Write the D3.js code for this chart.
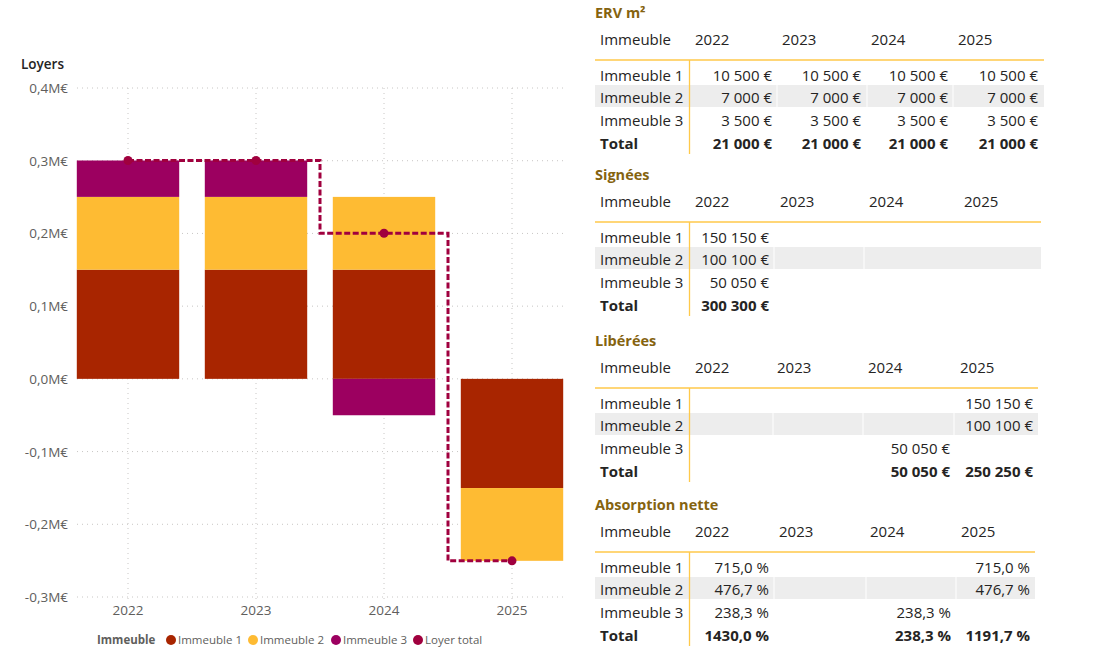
<!DOCTYPE html>
<html>
<head>
<meta charset="utf-8">
<script src="https://cdn.jsdelivr.net/npm/d3@7"></script>
<style>
  body { margin: 0; background: #fff; }
  svg { font-family: "Segoe UI", "Open Sans", sans-serif; }
</style>
</head>
<body>
<div id="chart"></div>
<script>
// data
var years = ["2022", "2023", "2024", "2025"];
var immeubles = ["Immeuble 1", "Immeuble 2", "Immeuble 3"];
var loyerImm1 = [150150, 150150, 150150, -150150];
var loyerImm2 = [100100, 100100, 100100, -100100];
var loyerImm3 = [50050, 50050, -50050, 0];
var loyerTotal = [300300, 300300, 200200, -250250];
var yTicks = [-300000, -200000, -100000, 0, 100000, 200000, 300000, 400000];

var erv1 = [10500, 10500, 10500, 10500];
var erv2 = [7000, 7000, 7000, 7000];
var erv3 = [3500, 3500, 3500, 3500];
var ervTotal = [21000, 21000, 21000, 21000];

var sig1 = [150150, null, null, null];
var sig2 = [100100, null, null, null];
var sig3 = [50050, null, null, null];
var sigTotal = [300300, null, null, null];

var lib1 = [null, null, null, 150150];
var lib2 = [null, null, null, 100100];
var lib3 = [null, null, 50050, null];
var libTotal = [null, null, 50050, 250250];

var abs1 = [715.0, null, null, 715.0];
var abs2 = [476.7, null, null, 476.7];
var abs3 = [238.3, null, 238.3, null];
var absTotal = [1430.0, null, 238.3, 1191.7];

var colors = {"Immeuble 1": "#A82500", "Immeuble 2": "#FEBB33", "Immeuble 3": "#9C0060", "Loyer total": "#A0003E"};

var fr = d3.formatLocale({decimal: ",", thousands: "\u00a0", grouping: [3], currency: ["", " €"], minus: "-"});
var fmtEur = function(v) { return fr.format(",.0f")(v) + " €"; };
var fmtPct = function(v) { return fr.format(",.1f")(v).replace(/\u00a0/g, "") + " %"; };
var fmtM = function(v) { return fr.format(".1f")(v / 1e6) + "M€"; };

var svg = d3.select("#chart").append("svg")
    .attr("width", 1108).attr("height", 648);

// ---- chart ----
var x = d3.scaleBand().domain(years).range([64, 576]).paddingInner(0.2).paddingOuter(0.1);
var y = d3.scaleLinear().domain([-300000, 400000]).range([597, 88]);

var grid = svg.append("g");
grid.selectAll(".hgrid").data(yTicks).enter().append("line")
    .attr("x1", 77).attr("x2", 563)
    .attr("y1", function(d) { return y(d); }).attr("y2", function(d) { return y(d); })
    .attr("stroke", "#C8C6C4").attr("stroke-dasharray", "1,4");
grid.selectAll(".vgrid").data(years).enter().append("line")
    .attr("x1", function(d) { return x(d) + x.bandwidth() / 2; })
    .attr("x2", function(d) { return x(d) + x.bandwidth() / 2; })
    .attr("y1", y(400000)).attr("y2", y(-300000) + 4)
    .attr("stroke", "#C8C6C4").attr("stroke-dasharray", "1,4");

svg.append("g").selectAll("text").data(yTicks).enter().append("text")
    .attr("x", 68).attr("y", function(d) { return y(d) + 5; })
    .attr("text-anchor", "end").attr("font-size", 13.5).attr("fill", "#605E5C")
    .text(fmtM);

svg.append("g").selectAll("text").data(years).enter().append("text")
    .attr("x", function(d) { return x(d) + x.bandwidth() / 2; }).attr("y", 615)
    .attr("text-anchor", "middle").attr("font-size", 13.5).attr("fill", "#605E5C")
    .text(function(d) { return d; });

svg.append("text").attr("x", 21).attr("y", 69)
    .attr("font-size", 13.5).attr("font-weight", 600).attr("fill", "#252423")
    .text("Loyers");

var rows = years.map(function(yr, i) {
    return {year: yr, "Immeuble 1": loyerImm1[i], "Immeuble 2": loyerImm2[i], "Immeuble 3": loyerImm3[i]};
});
var stack = d3.stack().keys(immeubles).offset(d3.stackOffsetDiverging)(rows);

svg.append("g").selectAll("g").data(stack).enter().append("g")
    .attr("fill", function(d) { return colors[d.key]; })
    .selectAll("rect").data(function(d) { return d; }).enter().append("rect")
    .attr("x", function(d) { return x(d.data.year); })
    .attr("width", x.bandwidth())
    .attr("y", function(d) { return y(Math.max(d[0], d[1])); })
    .attr("height", function(d) { return Math.abs(y(d[0]) - y(d[1])); });

var totalPts = years.map(function(yr, i) { return [x(yr) + x.bandwidth() / 2, y(loyerTotal[i])]; });
svg.append("path")
    .attr("d", d3.line().curve(d3.curveStep)(totalPts))
    .attr("fill", "none").attr("stroke", colors["Loyer total"])
    .attr("stroke-width", 3).attr("stroke-dasharray", "6,2.5");
svg.append("g").selectAll("circle").data(totalPts).enter().append("circle")
    .attr("cx", function(d) { return d[0]; }).attr("cy", function(d) { return d[1]; })
    .attr("r", 4.5).attr("fill", colors["Loyer total"]);

// legend
var legend = svg.append("g").attr("font-size", 11.5).attr("fill", "#605E5C");
legend.append("text").attr("x", 97).attr("y", 644).attr("font-weight", 700).text("Immeuble");
var legendItems = ["Immeuble 1", "Immeuble 2", "Immeuble 3", "Loyer total"];
var legendX = [171, 253, 336, 418];
legendItems.forEach(function(k, i) {
    legend.append("circle").attr("cx", legendX[i]).attr("cy", 640).attr("r", 5).attr("fill", colors[k]);
    legend.append("text").attr("x", legendX[i] + 7).attr("y", 644).text(k);
});

// ---- tables ----
function drawTable(t) {
    var g = svg.append("g").attr("font-size", 15).attr("fill", "#252423");
    var u = t.y;
    g.append("text").attr("x", 595).attr("y", u - 42).attr("font-size", 14.5)
        .attr("font-weight", 700).attr("fill", "#85630F").text(t.title);
    g.append("text").attr("x", 600).attr("y", u - 15).text("Immeuble");
    years.forEach(function(yr, j) {
        g.append("text").attr("x", t.hx[j]).attr("y", u - 15).text(yr);
    });
    g.append("rect").attr("x", 595).attr("y", u + 25).attr("width", t.right - 595).attr("height", 22)
        .attr("fill", "#EDEDED");
    t.seps.forEach(function(sx) {
        g.append("line").attr("x1", sx).attr("x2", sx).attr("y1", u + 25).attr("y2", u + 47)
            .attr("stroke", "#fff").attr("stroke-width", 1);
    });
    g.append("line").attr("x1", 595).attr("x2", t.right).attr("y1", u).attr("y2", u)
        .attr("stroke", "#FFC94A").attr("stroke-width", 1.3);
    g.append("line").attr("x1", 689.5).attr("x2", 689.5).attr("y1", u).attr("y2", u + 94)
        .attr("stroke", "#FFC94A").attr("stroke-width", 1.3);
    var labels = immeubles.concat(["Total"]);
    t.rows.forEach(function(vals, i) {
        var by = u + 20.5 + i * 22.8;
        var bold = i === 3 ? 700 : 400;
        g.append("text").attr("x", 600).attr("y", by).attr("font-weight", bold).text(labels[i]);
        vals.forEach(function(v, j) {
            if (v === null) return;
            g.append("text").attr("x", t.vx[j]).attr("y", by)
                .attr("text-anchor", "end").attr("font-weight", bold).text(t.fmt(v));
        });
    });
}

drawTable({title: "ERV m²", y: 60, right: 1044, hx: [695, 782, 871, 958], vx: [772, 861, 948, 1038],
    seps: [777, 867, 953], rows: [erv1, erv2, erv3, ervTotal], fmt: fmtEur});
drawTable({title: "Signées", y: 222, right: 1041, hx: [695, 780, 869, 964], vx: [769, 859, 950, 1036],
    seps: [774, 864], rows: [sig1, sig2, sig3, sigTotal], fmt: fmtEur});
drawTable({title: "Libérées", y: 388, right: 1038, hx: [695, 777, 868, 960], vx: [768, 858, 950, 1033],
    seps: [773, 863, 954], rows: [lib1, lib2, lib3, libTotal], fmt: fmtEur});
drawTable({title: "Absorption nette", y: 552, right: 1035, hx: [695, 779, 870, 961], vx: [769, 860, 951, 1030],
    seps: [774, 866, 956], rows: [abs1, abs2, abs3, absTotal], fmt: fmtPct});
</script>
</body>
</html>
